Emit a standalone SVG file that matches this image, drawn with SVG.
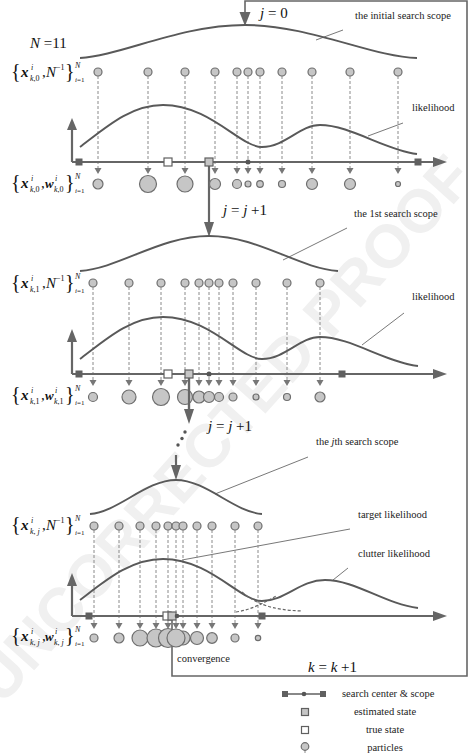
<svg xmlns="http://www.w3.org/2000/svg" width="474" height="753" viewBox="0 0 474 753">
<style>
.bg{fill:#fff}
.wm{font-family:"Liberation Sans",Arial,sans-serif;font-weight:bold;font-size:61px;fill:#f0f0f0}
.crv{fill:none;stroke:#595959;stroke-width:1.9}
.ax{fill:none;stroke:#666;stroke-width:2.2}
.ah{fill:#666}
.ld{fill:none;stroke:#555;stroke-width:0.8}
.dl{fill:none;stroke:#8a8a8a;stroke-width:1;stroke-dasharray:3 2}
.dah{fill:#777}
.pt{fill:#c6c6c6;stroke:#6e6e6e;stroke-width:1.2}
.sq{fill:#606060}
.tsq{fill:#fff;stroke:#606060;stroke-width:1.2}
.esq{fill:#c6c6c6;stroke:#606060;stroke-width:1.2}
.dot{fill:#555}
.lbl{font-family:"Liberation Serif","Times New Roman",serif;font-size:10.5px;fill:#222}
.m{font-family:"Liberation Serif","Times New Roman",serif;fill:#111}
.mi{font-style:italic}
.mb{font-style:italic;font-weight:bold}
.br{font-size:20px}
.big{font-size:15px}
.sm{font-size:8px}
.xs{font-size:7px}
.dash2{fill:none;stroke:#666;stroke-width:1.2;stroke-dasharray:3 2}
.loop{fill:none;stroke:#666;stroke-width:1.6}
</style>
<rect class="bg" x="0" y="0" width="474" height="753"/>
<text class="wm" transform="translate(2,706) rotate(-48)">UNCORRECTED PROOF</text>

<g id="connectors">
  <path class="loop" d="M172,620 L172,676 L467,676 L467,1 L245,1 L245,13"/>
  <polygon class="ah" points="239.5,12 250.5,12 245,26"/>
  <line class="ax" x1="209" y1="166" x2="209" y2="224"/>
  <polygon class="ah" points="204,222 214,222 209,237"/>
  <line class="ax" x1="189" y1="378" x2="189" y2="410"/>
  <polygon class="ah" points="184,409 194,409 189,424"/>
  <circle class="dot" cx="185" cy="432" r="1.7"/>
  <circle class="dot" cx="182" cy="438.5" r="1.7"/>
  <circle class="dot" cx="178" cy="445" r="1.7"/>
  <line class="ax" x1="176" y1="455" x2="176" y2="466"/>
  <polygon class="ah" points="171,465 181,465 176,480"/>
  <line class="ld" x1="343" y1="30" x2="316" y2="40"/>
  <line class="ld" x1="403" y1="123" x2="368" y2="136"/>
  <line class="ld" x1="347" y1="228" x2="283" y2="260"/>
  <line class="ld" x1="404" y1="313" x2="362" y2="345"/>
  <line class="ld" x1="308" y1="457" x2="215" y2="494"/>
  <line class="ld" x1="350" y1="529" x2="182" y2="560"/>
  <line class="ld" x1="348" y1="568" x2="333" y2="580"/>
</g>

<text class="m mi" x="260" y="18" font-size="15">j<tspan font-style="normal"> = 0</tspan></text>
<text class="lbl" x="355" y="19">the initial search scope</text>
<text class="m mi" x="30" y="48" font-size="15">N<tspan font-style="normal"> =11</tspan></text>

<g id="row1">
  <path class="crv" d="M80,58 C120,56 180,25 245,25 C310,25 372,57 417,58"/>
  <g class="m">
    <text class="br" x="11" y="78">{</text>
    <text class="mb big" x="21" y="77">x</text>
    <text class="mi sm" x="31" y="70">i</text>
    <text class="mi sm" x="30" y="81">k<tspan font-style="normal">,0</tspan></text>
    <text class="big" x="42" y="77">,</text>
    <text class="mi big" x="46" y="77">N</text>
    <text class="sm" x="56" y="70">−1</text>
    <text class="br" x="65" y="78">}</text>
    <text class="mi sm" x="75" y="68">N</text>
    <text class="mi xs" x="75" y="82">i<tspan font-style="normal">=1</tspan></text>
  </g>
  <g id="r1dash">
    <path class="dl" d="M98,76V168M148,76V168M185,76V168M215,76V168M237,76V168M248,76V168M260,76V168M282,76V168M312,76V168M350,76V168M398,76V168"/>
    <path class="dah" d="M94.5,168h7l-3.5,6zM144.5,168h7l-3.5,6zM181.5,168h7l-3.5,6zM211.5,168h7l-3.5,6zM233.5,168h7l-3.5,6zM244.5,168h7l-3.5,6zM256.5,168h7l-3.5,6zM278.5,168h7l-3.5,6zM308.5,168h7l-3.5,6zM346.5,168h7l-3.5,6zM394.5,168h7l-3.5,6z"/>
  </g>
  <g id="r1p">
    <circle class="pt" cx="98" cy="72" r="4"/><circle class="pt" cx="148" cy="72" r="4"/><circle class="pt" cx="185" cy="72" r="4"/><circle class="pt" cx="215" cy="72" r="4"/><circle class="pt" cx="237" cy="72" r="4"/><circle class="pt" cx="248" cy="72" r="4"/><circle class="pt" cx="260" cy="72" r="4"/><circle class="pt" cx="282" cy="72" r="4"/><circle class="pt" cx="312" cy="72" r="4"/><circle class="pt" cx="350" cy="72" r="4"/><circle class="pt" cx="398" cy="72" r="4"/>
  </g>
  <path class="crv" d="M80,147 C105,128 130,105 163,105 C210,105 240,147 262,147 C285,147 300,125 320,125 C350,125 385,150 417,154"/>
  <text class="lbl" x="412" y="111">likelihood</text>
  <line class="ax" x1="72" y1="162" x2="72" y2="128"/>
  <polygon class="ah" points="67,130 77,130 72,118"/>
  <line class="ax" x1="72" y1="162" x2="436" y2="162"/>
  <polygon class="ah" points="433,157 433,167 447,162"/>
  <rect class="sq" x="75.5" y="158.5" width="7" height="7"/>
  <rect class="sq" x="414.5" y="158.5" width="7" height="7"/>
  <rect class="tsq" x="164" y="158" width="8" height="8"/>
  <rect class="esq" x="205" y="158" width="8" height="8"/>
  <circle class="dot" cx="248" cy="162" r="2.5"/>
  <g class="m">
    <text class="br" x="11" y="189">{</text>
    <text class="mb big" x="21" y="188">x</text>
    <text class="mi sm" x="31" y="181">i</text>
    <text class="mi sm" x="30" y="192">k<tspan font-style="normal">,0</tspan></text>
    <text class="big" x="41" y="188">,</text>
    <text class="mb" font-size="13" x="45" y="188">w</text>
    <text class="mi sm" x="55" y="181">i</text>
    <text class="mi sm" x="54" y="192">k<tspan font-style="normal">,0</tspan></text>
    <text class="br" x="65" y="189">}</text>
    <text class="mi sm" x="75" y="179">N</text>
    <text class="mi xs" x="75" y="193">i<tspan font-style="normal">=1</tspan></text>
  </g>
  <g id="r1w">
    <circle class="pt" cx="98" cy="184" r="5"/><circle class="pt" cx="148" cy="184" r="8.5"/><circle class="pt" cx="185" cy="184" r="8"/><circle class="pt" cx="215" cy="184" r="5.5"/><circle class="pt" cx="237" cy="184" r="4.5"/><circle class="pt" cx="248" cy="184" r="3"/><circle class="pt" cx="260" cy="184" r="3.3"/><circle class="pt" cx="282" cy="184" r="3.5"/><circle class="pt" cx="312" cy="184" r="5.5"/><circle class="pt" cx="350" cy="184" r="5.5"/><circle class="pt" cx="398" cy="184" r="2.5"/>
  </g>
</g>

<text class="m mi" x="223" y="215" font-size="15">j<tspan font-style="normal"> = </tspan>j<tspan font-style="normal"> +1</tspan></text>
<text class="lbl" x="354" y="217">the 1st search scope</text>

<g id="row2">
  <path class="crv" d="M80,271 C120,268 160,236 209,236 C258,236 298,268 338,271"/>
  <g class="m">
    <text class="br" x="11" y="289">{</text>
    <text class="mb big" x="21" y="288">x</text>
    <text class="mi sm" x="31" y="281">i</text>
    <text class="mi sm" x="30" y="292">k<tspan font-style="normal">,1</tspan></text>
    <text class="big" x="42" y="288">,</text>
    <text class="mi big" x="46" y="288">N</text>
    <text class="sm" x="56" y="281">−1</text>
    <text class="br" x="65" y="289">}</text>
    <text class="mi sm" x="75" y="279">N</text>
    <text class="mi xs" x="75" y="293">i<tspan font-style="normal">=1</tspan></text>
  </g>
  <path class="dl" d="M93,287V380M129,287V380M161,287V380M185,287V380M199,287V380M209,287V380M219,287V380M233,287V380M256,287V380M287,287V380M320,287V380"/>
  <path class="dah" d="M89.5,380h7l-3.5,6zM125.5,380h7l-3.5,6zM157.5,380h7l-3.5,6zM181.5,380h7l-3.5,6zM195.5,380h7l-3.5,6zM205.5,380h7l-3.5,6zM215.5,380h7l-3.5,6zM229.5,380h7l-3.5,6zM252.5,380h7l-3.5,6zM283.5,380h7l-3.5,6zM316.5,380h7l-3.5,6z"/>
  <g id="r2p">
    <circle class="pt" cx="93" cy="283" r="4"/><circle class="pt" cx="129" cy="283" r="4"/><circle class="pt" cx="161" cy="283" r="4"/><circle class="pt" cx="185" cy="283" r="4"/><circle class="pt" cx="199" cy="283" r="4"/><circle class="pt" cx="209" cy="283" r="4"/><circle class="pt" cx="219" cy="283" r="4"/><circle class="pt" cx="233" cy="283" r="4"/><circle class="pt" cx="256" cy="283" r="4"/><circle class="pt" cx="287" cy="283" r="4"/><circle class="pt" cx="320" cy="283" r="4"/>
  </g>
  <text class="lbl" x="412" y="300">likelihood</text>
  <path class="crv" d="M80,359 C105,340 130,317 163,317 C210,317 240,359 262,359 C285,359 300,337 320,337 C350,337 385,362 418,366"/>
  <line class="ax" x1="72" y1="374" x2="72" y2="340"/>
  <polygon class="ah" points="67,342 77,342 72,329"/>
  <line class="ax" x1="72" y1="374" x2="436" y2="374"/>
  <polygon class="ah" points="433,369 433,379 447,374"/>
  <rect class="sq" x="75.5" y="370.5" width="7" height="7"/>
  <rect class="sq" x="338.5" y="370.5" width="7" height="7"/>
  <rect class="tsq" x="164" y="370" width="8" height="8"/>
  <circle class="dot" cx="209" cy="374" r="2.5"/>
  <g class="m">
    <text class="br" x="11" y="401">{</text>
    <text class="mb big" x="21" y="400">x</text>
    <text class="mi sm" x="31" y="393">i</text>
    <text class="mi sm" x="30" y="404">k<tspan font-style="normal">,1</tspan></text>
    <text class="big" x="41" y="400">,</text>
    <text class="mb" font-size="13" x="45" y="400">w</text>
    <text class="mi sm" x="55" y="393">i</text>
    <text class="mi sm" x="54" y="404">k<tspan font-style="normal">,1</tspan></text>
    <text class="br" x="65" y="401">}</text>
    <text class="mi sm" x="75" y="391">N</text>
    <text class="mi xs" x="75" y="405">i<tspan font-style="normal">=1</tspan></text>
  </g>
  <g id="r2w">
    <circle class="pt" cx="93" cy="397" r="4.5"/><circle class="pt" cx="129" cy="397" r="7"/><circle class="pt" cx="161" cy="397" r="8.5"/><circle class="pt" cx="185" cy="397" r="7.5"/><circle class="pt" cx="199" cy="397" r="6"/><circle class="pt" cx="209" cy="397" r="5.5"/><circle class="pt" cx="219" cy="397" r="4.5"/><circle class="pt" cx="233" cy="397" r="4"/><circle class="pt" cx="256" cy="397" r="3"/><circle class="pt" cx="287" cy="397" r="3.5"/><circle class="pt" cx="320" cy="397" r="5"/>
  </g>
  <rect class="esq" x="185" y="370" width="8" height="8"/>
  <line class="ax" x1="189" y1="378" x2="189" y2="410"/>
</g>

<text class="m mi" x="208" y="431" font-size="15">j<tspan font-style="normal"> = </tspan>j<tspan font-style="normal"> +1</tspan></text>
<text class="lbl" x="316" y="445">the <tspan font-style="italic">j</tspan>th search scope</text>

<g id="row3">
  <path class="crv" d="M90,514 C118,512 146,480 176,480 C206,480 234,512 262,514"/>
  <g class="m">
    <text class="br" x="11" y="531">{</text>
    <text class="mb big" x="21" y="530">x</text>
    <text class="mi sm" x="31" y="523">i</text>
    <text class="mi sm" x="30" y="534">k<tspan font-style="normal">, </tspan>j</text>
    <text class="big" x="42" y="530">,</text>
    <text class="mi big" x="46" y="530">N</text>
    <text class="sm" x="56" y="523">−1</text>
    <text class="br" x="65" y="531">}</text>
    <text class="mi sm" x="75" y="521">N</text>
    <text class="mi xs" x="75" y="535">i<tspan font-style="normal">=1</tspan></text>
  </g>
  <text class="lbl" x="358" y="518">target likelihood</text>
  <text class="lbl" x="358" y="557">clutter likelihood</text>
  <path class="dl" d="M94,530V623M119,530V623M140,530V623M156,530V623M168,530V623M176,530V623M183,530V623M197,530V623M212,530V623M235,530V623M258,530V623"/>
  <path class="dah" d="M90.5,623h7l-3.5,6zM115.5,623h7l-3.5,6zM136.5,623h7l-3.5,6zM152.5,623h7l-3.5,6zM164.5,623h7l-3.5,6zM172.5,623h7l-3.5,6zM179.5,623h7l-3.5,6zM193.5,623h7l-3.5,6zM208.5,623h7l-3.5,6zM231.5,623h7l-3.5,6zM254.5,623h7l-3.5,6z"/>
  <g id="r3p">
    <circle class="pt" cx="94" cy="526" r="4"/><circle class="pt" cx="119" cy="526" r="4"/><circle class="pt" cx="140" cy="526" r="4"/><circle class="pt" cx="156" cy="526" r="4"/><circle class="pt" cx="168" cy="526" r="4"/><circle class="pt" cx="176" cy="526" r="4"/><circle class="pt" cx="183" cy="526" r="4"/><circle class="pt" cx="197" cy="526" r="4"/><circle class="pt" cx="212" cy="526" r="4"/><circle class="pt" cx="235" cy="526" r="4"/><circle class="pt" cx="258" cy="526" r="4"/>
  </g>
  <path class="crv" d="M80,600 C105,581 130,559 163,559 C210,559 240,601 262,601 C285,601 300,580 325,580 C355,580 385,604 418,608"/>
  <path class="dash2" d="M242,592 C256,604 272,610 302,611"/>
  <path class="dash2" d="M236,612 C250,610 262,604 276,596"/>
  <line class="ax" x1="72" y1="616" x2="72" y2="584"/>
  <polygon class="ah" points="67,586 77,586 72,573"/>
  <line class="ax" x1="72" y1="616" x2="436" y2="616"/>
  <polygon class="ah" points="433,611 433,621 447,616"/>
  <rect class="sq" x="85.5" y="612.5" width="7" height="7"/>
  <rect class="sq" x="258.5" y="612.5" width="7" height="7"/>
  <rect class="tsq" x="163" y="612" width="8" height="8"/>
  <rect class="esq" x="168" y="612" width="8" height="8"/>
  <circle class="dot" cx="177" cy="616" r="2.3"/>
  <g class="m">
    <text class="br" x="11" y="642">{</text>
    <text class="mb big" x="21" y="641">x</text>
    <text class="mi sm" x="31" y="634">i</text>
    <text class="mi sm" x="30" y="645">k<tspan font-style="normal">, </tspan>j</text>
    <text class="big" x="42" y="641">,</text>
    <text class="mb" font-size="13" x="45" y="641">w</text>
    <text class="mi sm" x="55" y="634">i</text>
    <text class="mi sm" x="54" y="645">k<tspan font-style="normal">, </tspan>j</text>
    <text class="br" x="65" y="642">}</text>
    <text class="mi sm" x="75" y="632">N</text>
    <text class="mi xs" x="75" y="646">i<tspan font-style="normal">=1</tspan></text>
  </g>
  <g id="r3w">
    <circle class="pt" cx="94" cy="638" r="4"/><circle class="pt" cx="119" cy="638" r="5"/><circle class="pt" cx="140" cy="638" r="8"/><circle class="pt" cx="156" cy="638" r="9"/><circle class="pt" cx="212" cy="638" r="5.3"/><circle class="pt" cx="197" cy="638" r="6.5"/><circle class="pt" cx="183" cy="638" r="7"/><circle class="pt" cx="168" cy="638" r="9.5"/><circle class="pt" cx="176" cy="638" r="9"/><circle class="pt" cx="235" cy="638" r="4"/><circle class="pt" cx="258" cy="638" r="2.7"/>
  </g>
</g>

<text class="lbl" x="177" y="662" font-size="11">convergence</text>
<text class="m mi" x="308" y="672" font-size="15">k<tspan font-style="normal"> = </tspan>k<tspan font-style="normal"> +1</tspan></text>

<g id="legend">
  <g id="lg-scope">
    <line x1="285" y1="694" x2="323" y2="694" stroke="#606060" stroke-width="1.5"/>
    <rect class="sq" x="282" y="691" width="6" height="6"/>
    <rect class="sq" x="320" y="691" width="6" height="6"/>
    <circle class="dot" cx="304" cy="694" r="2.3"/>
    <text class="lbl" x="342" y="697">search center &amp; scope</text>
  </g>
  <g id="lg-est">
    <rect class="esq" x="301.5" y="708.5" width="7" height="7"/>
    <text class="lbl" x="385" y="715" text-anchor="middle">estimated state</text>
  </g>
  <g id="lg-true">
    <rect class="tsq" x="301.5" y="726.5" width="7" height="7"/>
    <text class="lbl" x="385" y="733" text-anchor="middle">true state</text>
  </g>
  <g id="lg-part">
    <line x1="305" y1="750" x2="305" y2="753" stroke="#8a8a8a" stroke-width="1"/>
    <circle class="pt" cx="305" cy="746.5" r="3.8"/>
    <text class="lbl" x="385" y="751" text-anchor="middle">particles</text>
  </g>
</g>
</svg>
